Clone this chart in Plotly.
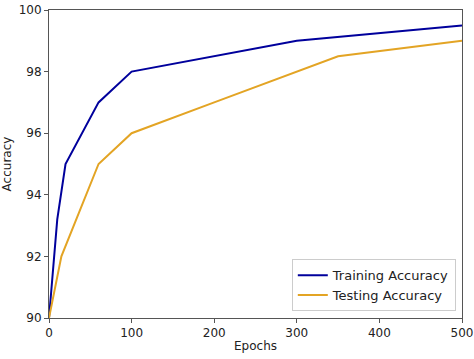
import plotly.graph_objects as go

epochs_train = [0, 10, 20, 60, 100, 200, 300, 500]
train_acc = [90, 93.2, 95, 97, 98, 98.5, 99, 99.5]
epochs_test = [0, 15, 60, 100, 200, 300, 350, 500]
test_acc = [90, 92, 95, 96, 97, 98, 98.5, 99]
x_ticks = [0, 100, 200, 300, 400, 500]
y_ticks = [90, 92, 94, 96, 98, 100]

fig = go.Figure()
fig.add_trace(go.Scatter(x=epochs_train, y=train_acc, mode="lines", name="Training Accuracy",
                         line=dict(color="#00009c", width=2)))
fig.add_trace(go.Scatter(x=epochs_test, y=test_acc, mode="lines", name="Testing Accuracy",
                         line=dict(color="#e3a424", width=2)))

axis_common = dict(showline=True, linecolor="#555555", linewidth=1, mirror=True,
                   ticks="outside", ticklen=4, tickcolor="#555555", showgrid=False,
                   zeroline=False, automargin=False, ticklabeloverflow="allow",
                   tickfont=dict(size=12, color="#222222"))
fig.update_layout(
    width=474, height=359,
    margin=dict(l=49, r=12, t=10, b=41),
    paper_bgcolor="white", plot_bgcolor="white",
    font=dict(family="DejaVu Sans", size=12, color="#222222"),
    xaxis=dict(range=[0, 500], tickvals=x_ticks,
               title=dict(text="Epochs", standoff=2, font=dict(size=12)), **axis_common),
    yaxis=dict(range=[90, 100], tickvals=y_ticks,
               title=dict(text="Accuracy", standoff=8, font=dict(size=12)), **axis_common),
    legend=dict(x=0.985, y=0.022, xanchor="right", yanchor="bottom",
                bgcolor="rgba(255,255,255,0.9)", bordercolor="#cccccc", borderwidth=1,
                font=dict(size=13), tracegroupgap=0),
    showlegend=True,
)
fig.write_html("out.html", config={"displayModeBar": False},
               post_script="document.body.style.margin='0px';")
